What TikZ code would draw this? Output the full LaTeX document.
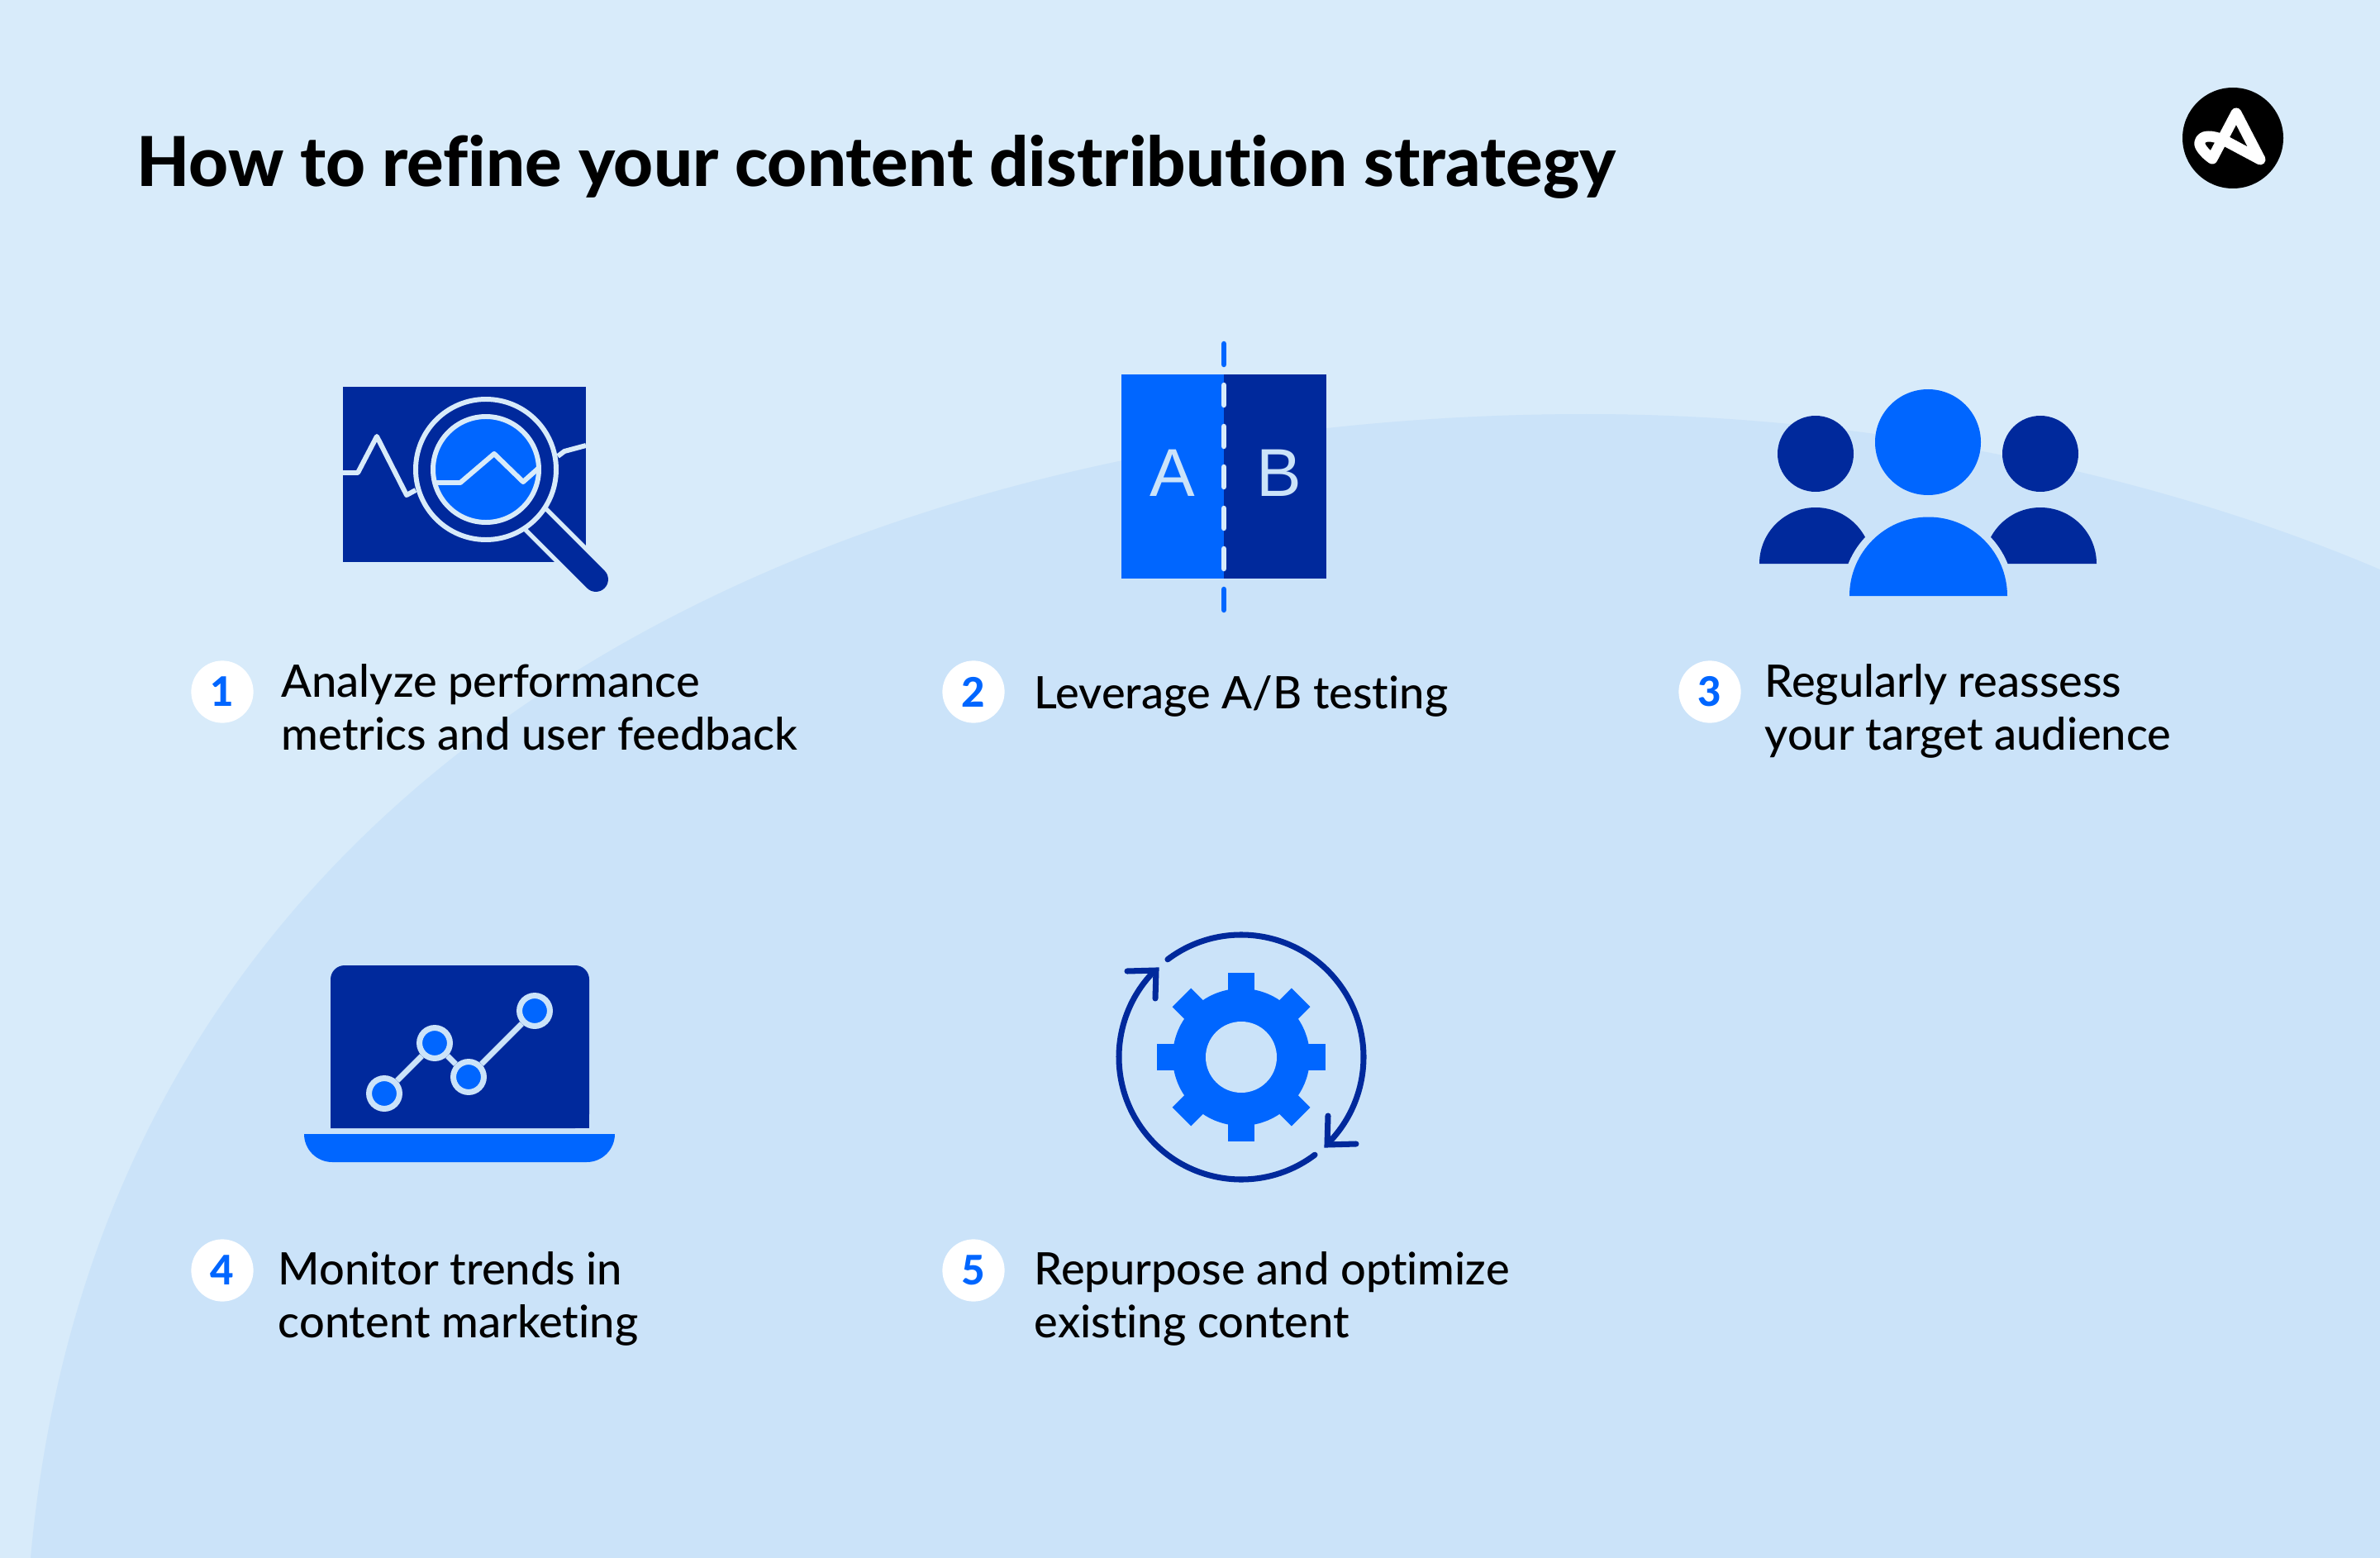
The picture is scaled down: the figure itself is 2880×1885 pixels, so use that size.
\documentclass[tikz,border=0pt]{standalone}
\usepackage{fontspec}
\setmainfont{Lato}[UprightFont=* Medium,BoldFont=* Heavy,Ligatures=NoCommon]
\newfontfamily\letterfont{Liberation Sans}
\usepackage{tikz}
\definecolor{paleblue}{HTML}{D8EBFA}
\definecolor{archblue}{HTML}{CBE3F9}
\definecolor{navyblue}{HTML}{00299C}
\definecolor{brightblue}{HTML}{0066FF}
\tikzstyle{title} = [anchor=base west,inner sep=0pt,font=\fontsize{23.67}{28}\selectfont\bfseries]
\tikzstyle{badge} = [circle,fill=white,minimum size=21.4pt,inner sep=0pt,text=brightblue,font=\fontsize{14}{16}\selectfont\bfseries]
\tikzstyle{caption} = [anchor=west,align=left,inner sep=0pt,font=\fontsize{15.4}{18}\selectfont,execute at begin node=\strut,execute at end node=\strut]
\tikzstyle{chartdot} = [circle,fill=brightblue,draw=archblue,line width=2pt,minimum size=37*0.2835pt,inner sep=0pt]
\tikzstyle{chartline} = [draw=archblue,line width=2pt]
\tikzstyle{trace} = [draw=paleblue,line width=1.7pt,line join=round]
\tikzstyle{letter} = [text=archblue,inner sep=0pt,font=\fontsize{23.3}{26}\selectfont\letterfont]
\tikzstyle{ringline} = [draw=navyblue,line width=2pt,line cap=round]
\begin{document}
\begin{tikzpicture}[x=0.01cm,y=-0.01cm]
    \useasboundingbox (0,0) rectangle (2880,1885);
    \fill[paleblue] (0,0) rectangle (2880,1885);
    \fill[archblue] (37,1885) .. controls (82,1388) and (334,1018) .. (751,780)
        .. controls (1099,582) and (1520,501) .. (1920,501)
        .. controls (2240,501) and (2586,564) .. (2880,689) -- (2880,1885) -- cycle;

    \node[title] (heading) at (165,226) {How to refine your content distribution strategy};

    % logo
    \fill[black] (2702,167) circle [radius=61];
    \draw[white,line width=3.7pt,line join=round] (2706,137) -- (2677,192)
        .. controls (2668,186) and (2660,176) .. (2662,172)
        .. controls (2664,163) and (2676,163) .. (2692,170) -- (2735,193) -- cycle;

    % magnifier over the chart
    \fill[navyblue] (415,468) rectangle (709,680);
    \path[trace] (415,572) -- (433,572) -- (456,528) -- (492,599) -- (503,593);
    \path[trace] (675,552) -- (683,546) -- (709,539);
    \draw[paleblue,line width=11.6pt] (647,627) -- (721,701);
    \draw[navyblue,line width=8.5pt,line cap=round] (647,627) -- (721,701);
    \filldraw[fill=navyblue,draw=paleblue,line width=1.7pt] (588,568) circle [radius=85];
    \filldraw[fill=brightblue,draw=paleblue,line width=1.7pt] (588,568) circle [radius=64];
    \begin{scope}
        \clip (588,568) circle [radius=64];
        \path[trace] (520,584) -- (557,584) -- (598,549) -- (633,583) -- (660,559);
    \end{scope}

    % split test
    \fill[brightblue] (1357,453) rectangle (1481,700);
    \fill[navyblue] (1481,453) rectangle (1605,700);
    \foreach \top/\bot in {466/490, 516/540, 565/589, 615/639, 664/688}
        \draw[paleblue,line width=1.85pt,line cap=round] (1481,\top) -- (1481,\bot);
    \foreach \top/\bot in {416/441, 713/738}
        \draw[brightblue,line width=1.85pt,line cap=round] (1481,\top) -- (1481,\bot);
    \node[letter] (letterA) at (1419,572) {A};
    \node[letter] (letterB) at (1548,572) {B};

    % audience
    \foreach \x in {2197,2469} {
        \fill[navyblue] (\x,549) circle [radius=46];
        \fill[navyblue] (\x-68,682) arc [start angle=180,end angle=360,radius=68] -- cycle;
    }
    \fill[archblue] (2333,721) circle [radius=104];
    \fill[brightblue] (2333,535) circle [radius=64];
    \fill[brightblue] (2238,721) arc [start angle=180,end angle=360,radius=95.5] -- cycle;

    % laptop
    \fill[navyblue,rounded corners=17*0.2835pt] (400,1365) -- (400,1168) -- (713,1168) -- (713,1365) [sharp corners] -- cycle;
    \fill[navyblue] (400,1340) rectangle (713,1365);
    \fill[brightblue] (368,1372) -- (744,1372) arc [start angle=0,end angle=90,radius=34] -- (402,1406) arc [start angle=90,end angle=180,radius=34] -- cycle;
    \foreach \name/\x/\y in {p1/465/1323, p2/526/1262, p3/567/1303, p4/647/1223}
        \node[chartdot] (\name) at (\x,\y) {};
    \foreach \source/\dest in {p1/p2, p2/p3, p3/p4}
        \path[chartline] (\source) -- (\dest);

    % gear in a loop
    \foreach \a in {0,45,...,315}
        \fill[brightblue,rotate around={\a:(1502,1279)}] (1486,1177) rectangle (1518,1230);
    \fill[brightblue] (1502,1279) circle [radius=83];
    \fill[archblue] (1502,1279) circle [radius=43];
    \draw[ringline] (1502,1279) ++(233:148) arc [start angle=233,end angle=405,radius=148];
    \draw[ringline] (1502,1279) ++(53:148) arc [start angle=53,end angle=225,radius=148];
    \draw[ringline] (1364,1175) -- (1399,1174) -- (1398,1208);
    \draw[ringline] (1607,1350) -- (1606,1385) -- (1641,1384);

    % steps
    \foreach \n/\x/\y/\tx/\ty/\words in {
        1/269/837/340/865/{Analyze performance\\metrics and user feedback},
        2/1178/837/1251/845/{Leverage A/B testing},
        3/2069/837/2135/865/{Regularly reassess\\your target audience},
        4/269/1537/336/1576/{Monitor trends in\\content marketing},
        5/1178/1537/1251/1576/{Repurpose and optimize\\existing content}}
    {
        \node[badge] (badge\n) at (\x,\y) {\n};
        \node[caption] (step\n) at (\tx,\ty) {\words};
    }
\end{tikzpicture}
\end{document}
